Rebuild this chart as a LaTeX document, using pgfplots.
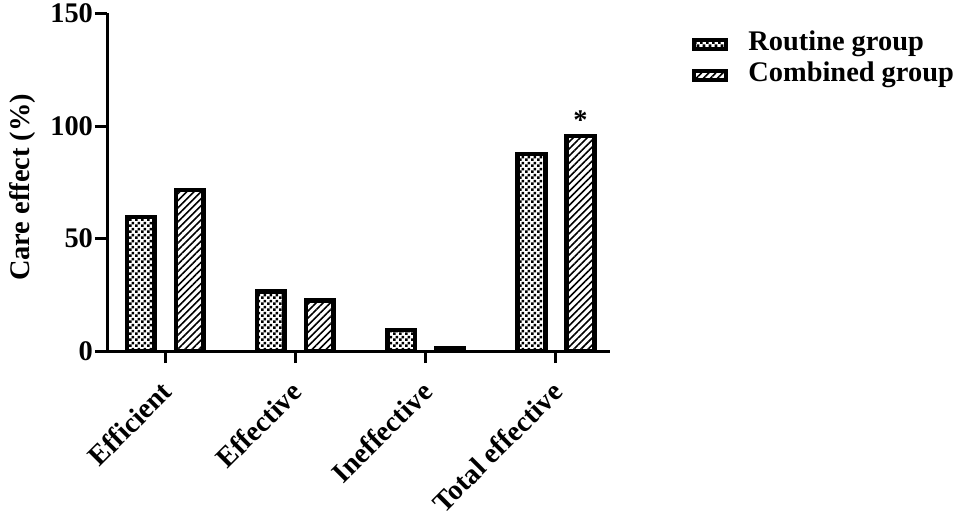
\documentclass[border=0pt]{standalone}
\usepackage{fontspec}
\setmainfont{Liberation Serif}
\usepackage{pgfplots}
\pgfplotsset{compat=1.18}
\usetikzlibrary{patterns.meta}

% fine black/white checkerboard used for the routine group
\tikzdeclarepattern{
  name=finecheck,
  type=uncolored,
  bottom left={(0pt,0pt)},
  top right={(2.8pt,2.8pt)},
  tile size={(2.8pt,2.8pt)},
  code={
    \fill (0pt,0pt) rectangle (1.4pt,1.4pt);
    \fill (1.4pt,1.4pt) rectangle (2.8pt,2.8pt);
  }
}

\pgfplotsset{
  boxlegend/.style={
    legend image code/.code={\draw[##1, line width=2pt] (0pt,-2.25pt) rectangle (16pt,2.25pt);}
  }
}

\newcommand{\lblfont}{\fontsize{14.2}{16}\selectfont\bfseries}

\begin{document}
\begin{tikzpicture}
\begin{axis}[
  at={(0,0)}, anchor=south west,
  scale only axis,
  width=251.5pt, height=168.75pt,
  xmin=-0.446, xmax=3.415,
  ymin=0, ymax=150,
  ytick={0,50,100,150},
  xtick={0,1,2,3},
  xticklabels={Efficient,Effective,Ineffective,Total effective},
  axis x line*=bottom, axis y line*=left,
  axis line style={line width=1.5pt},
  tick align=outside,
  major tick length=6pt,
  every tick/.style={black, line width=1.5pt},
  font=\lblfont,
  tick label style={font=\lblfont},
  /pgf/number format/assume math mode=true,
  xticklabel style={rotate=45, anchor=east, xshift=-4.5pt, yshift=-9pt},
  yticklabel style={xshift=2.5pt},
  ylabel={Care effect (\%)},
  ylabel style={at={(axis description cs:-0.168,0.485)}, anchor=center},
  ybar, bar width=13.75pt,
  legend style={at={(1.163,0.8637)}, anchor=west, draw=none, fill=none,
    inner sep=0pt, row sep=2.5pt,
    nodes={inner sep=0.5pt, text height=9pt, text depth=3pt},
    /tikz/every odd column/.append style={column sep=9.5pt}},
  legend cell align=left,
]
\addplot[draw=black, line width=2.3pt, pattern=finecheck, bar shift=-12.25pt, boxlegend]
  coordinates {(0,59.5) (1,26.4) (2,9.3) (3,87.6)};
\addlegendentry{Routine group}
\addplot[draw=black, line width=2.3pt,
  pattern={Lines[angle=45,distance=2.5pt,line width=0.8pt]}, bar shift=12.25pt,
  nodes near coords, point meta=explicit symbolic,
  every node near coord/.append style={font=\lblfont, yshift=-1.5pt},
  boxlegend]
  coordinates {(0,71.6) [{}] (1,22.4) [{}] (2,1.3) [{}] (3,95.6) [*]};
\addlegendentry{Combined group}
\end{axis}
\pgfresetboundingbox
\useasboundingbox (-53.5pt,-84.5pt) rectangle (425pt,175.5pt);
\end{tikzpicture}
\end{document}
